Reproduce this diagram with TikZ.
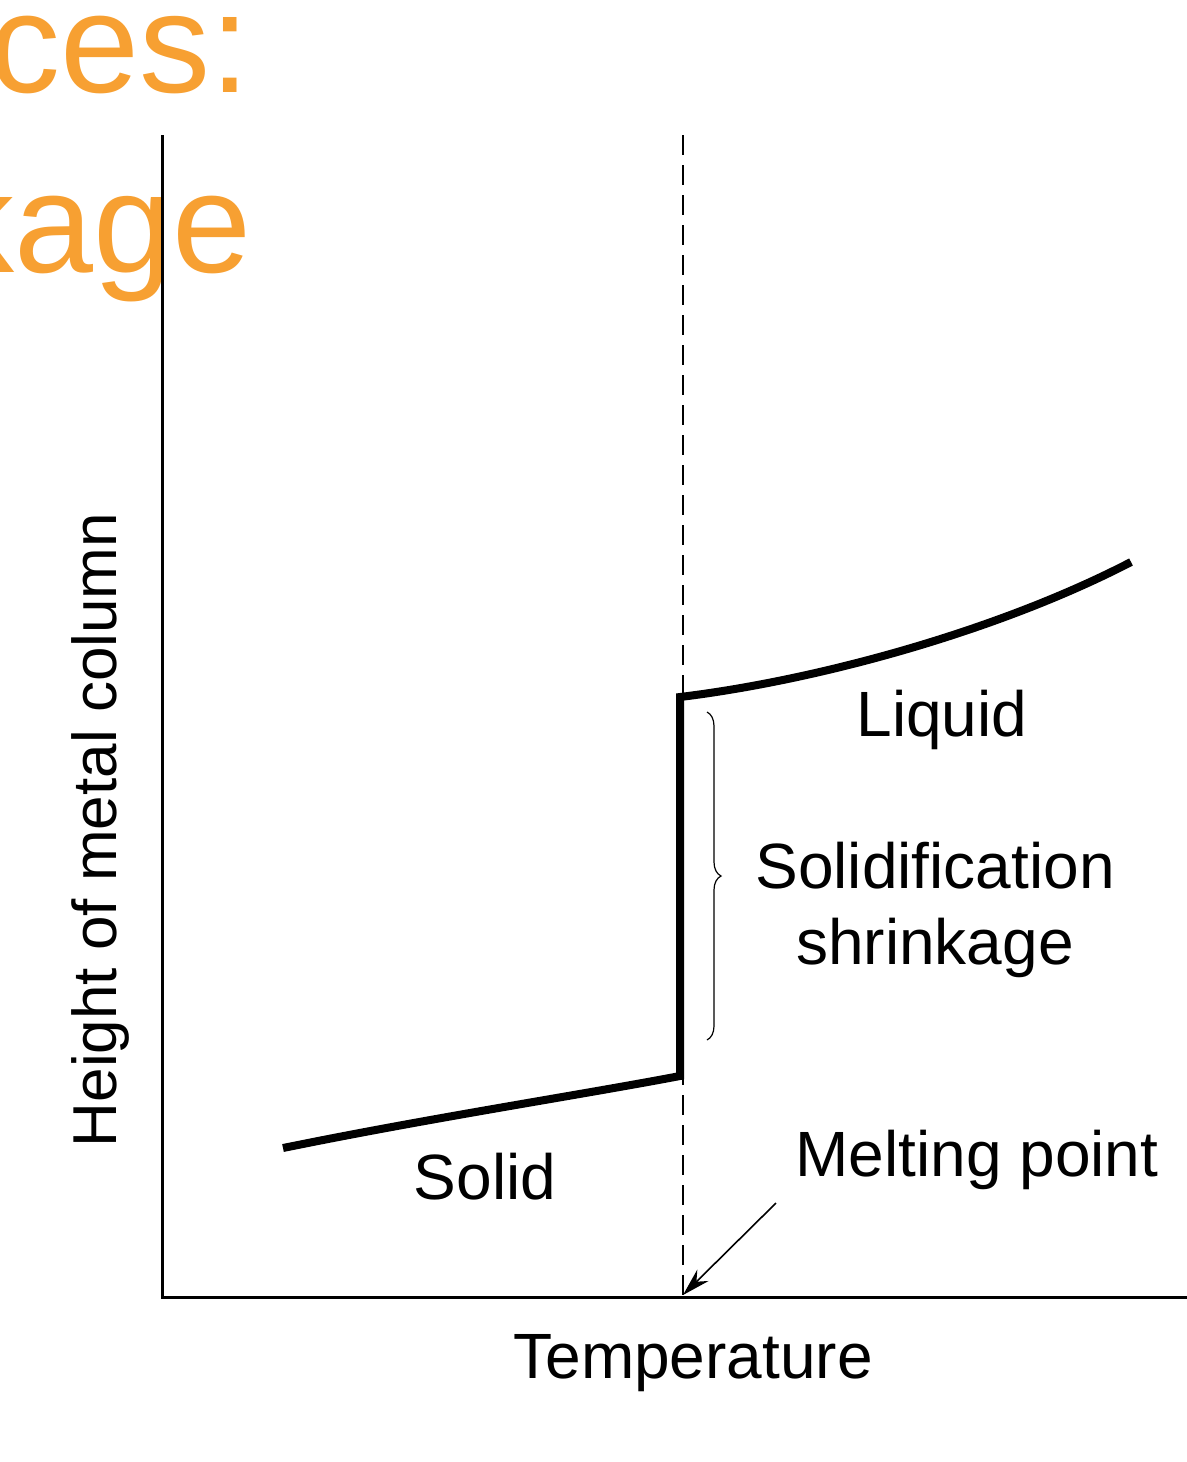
\documentclass[tikz,border=0pt]{standalone}
\usepackage{fontspec}
\setmainfont{Liberation Sans}
\usetikzlibrary{decorations.pathreplacing,arrows.meta}
\definecolor{ttl}{RGB}{247,160,50}
\begin{document}
\begin{tikzpicture}[x=0.5pt,y=-0.5pt,
  lbl/.style={font=\fontsize{32}{38}\selectfont,inner sep=0},
  thick curve/.style={line width=4pt,line cap=butt,line join=miter}]
\useasboundingbox (0,0) rectangle (1187,1462);
\clip (0,0) rectangle (1187,1462);
\node[anchor=base east,text=ttl,font=\fontsize{71}{80}\selectfont,inner sep=0] (t1) at (250,92) {ces:};
\node[anchor=base east,text=ttl,font=\fontsize{71}{80}\selectfont,inner sep=0] (t2) at (252,272) {kage};
\coordinate (ytop) at (162,135);
\coordinate (orig) at (162,1297);
\coordinate (xend) at (1187,1297);
\draw[line width=1.5pt] (ytop) -- (orig) -- (xend);
\coordinate (dtop) at (683,135);
\coordinate (dbot) at (683,1295);
\draw[dashed,line width=0.8pt,dash pattern=on 10pt off 5pt] (dtop) -- (dbot);
\draw[thick curve] (283,1148) .. controls (430,1118) and (580,1095) .. (680,1076) -- (680,697) .. controls (820,680) and (1000,630) .. (1131,562);
\draw[decorate,decoration={brace,amplitude=7pt},line width=0.6pt] (707,712) -- (707,1040);
\node[lbl] (liq) at (942,720) {Liquid};
\node[lbl,align=center] (sol) at (935,910) {Solidification\\shrinkage};
\node[lbl] (solid) at (485,1177) {Solid};
\node[lbl] (mp) at (977,1160) {Melting point};
\node[lbl] (temp) at (693,1363) {Temperature};
\node[lbl,rotate=90,font=\fontsize{31}{36}\selectfont] (ht) at (100,830) {Height of metal column};
\coordinate (a1) at (776,1203);
\draw[-{Stealth[length=14pt,width=8pt]},line width=0.8pt] (a1) -- (dbot);
\end{tikzpicture}
\end{document}
